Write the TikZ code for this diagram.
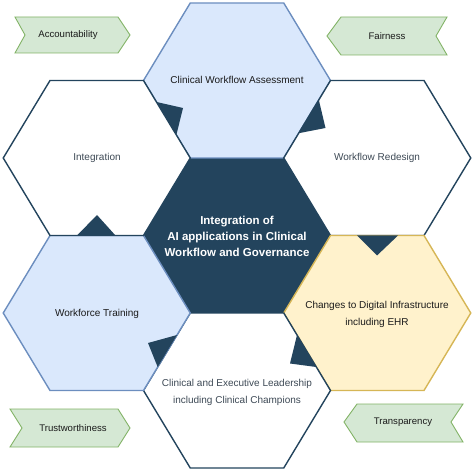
\documentclass[tikz,border=0pt]{standalone}
\usepackage{fontspec}
\setmainfont{Liberation Sans}
\usetikzlibrary{calc}
\definecolor{navy}{HTML}{23445D}
\definecolor{lblue}{HTML}{DAE8FC}
\definecolor{bblue}{HTML}{6C8EBF}
\definecolor{lyel}{HTML}{FFF2CC}
\definecolor{byel}{HTML}{D6B656}
\definecolor{lgreen}{HTML}{D5E8D4}
\definecolor{bgreen}{HTML}{82B366}
\definecolor{txtdark}{HTML}{1A1A1A}
\definecolor{txtgray}{HTML}{3E4A56}
\tikzset{
  hexwhite/.style={fill=white,draw=navy,line width=1.4pt,line join=miter},
  hexblue/.style={fill=lblue,draw=bblue,line width=1.4pt,line join=miter},
  hexyel/.style={fill=lyel,draw=byel,line width=1.4pt,line join=miter},
  hexdark/.style={fill=navy,draw=navy,line width=1.4pt},
  tagbox/.style={fill=lgreen,draw=bgreen,line width=0.9pt},
  notch/.style={fill=navy},
  lbl/.style={font=\fontsize{10}{17}\selectfont,align=center,text=txtdark,inner sep=0pt},
  lblgray/.style={lbl,text=txtgray},
  taglbl/.style={font=\fontsize{9.6}{12}\selectfont,text=txtdark,inner sep=0pt},
  mainlbl/.style={font=\bfseries\fontsize{11.5}{16}\selectfont,align=center,text=white,inner sep=0pt}
}
\newcommand\hexagonat[2]{\path[#1,shift={(#2)}] (-93.5,0) -- (-46.75,-77.5) -- (46.75,-77.5) -- (93.5,0) -- (46.75,77.5) -- (-46.75,77.5) -- cycle;}
\begin{document}
\begin{tikzpicture}[x=1pt,y=-1pt]
\useasboundingbox (0,0) rectangle (474,473);
% centres
\coordinate (T) at (237,80.5);
\coordinate (C) at (237,235.5);
\coordinate (B) at (237,390.5);
\coordinate (UL) at (96.75,158);
\coordinate (UR) at (377.25,158);
\coordinate (LL) at (96.75,313);
\coordinate (LR) at (377.25,313);
% hexagons
\hexagonat{hexdark}{C}
\hexagonat{hexblue}{T}
\hexagonat{hexwhite}{UR}
\hexagonat{hexyel}{LR}
\hexagonat{hexwhite}{B}
\hexagonat{hexblue}{LL}
\hexagonat{hexwhite}{UL}
% vertices used by the notches
\coordinate (Tl) at (143.5,80.5);
\coordinate (Tbl) at (190.25,158);
\coordinate (Tr) at (330.5,80.5);
\coordinate (Tbr) at (283.75,158);
\coordinate (LLr) at (190.25,313);
\coordinate (Bl) at (143.5,390.5);
\coordinate (LRl) at (283.75,313);
\coordinate (Br) at (330.5,390.5);
% notches
\fill[notch] ($(Tl)!0.277!(Tbl)$) -- (183,108) -- ($(Tl)!0.703!(Tbl)$) -- cycle;
\fill[notch] ($(Tr)!0.25!(Tbr)$) -- (325.5,128) -- ($(Tr)!0.68!(Tbr)$) -- cycle;
\fill[notch] (77,235.5) -- (97,215) -- (115.5,235.5) -- cycle;
\fill[notch] (357,235.5) -- (377,255.5) -- (398,235.5) -- cycle;
\fill[notch] ($(LLr)!0.284!(Bl)$) -- (148,343) -- ($(LLr)!0.697!(Bl)$) -- cycle;
\fill[notch] ($(LRl)!0.284!(Br)$) -- (290,363.5) -- ($(LRl)!0.697!(Br)$) -- cycle;
% hexagon labels
\node[mainlbl] (mainl) at (237,236) {Integration of\\AI applications in Clinical\\Workflow and Governance};
\node[lbl] (tl) at (237,80) {Clinical Workflow Assessment};
\node[lblgray] (ull) at (97,158) {Integration};
\node[lblgray] (url) at (377,158) {Workflow Redesign};
\node[lbl] (lll) at (97,314) {Workforce Training};
\node[lbl] (lrl) at (377,314.5) {Changes to Digital Infrastructure\\including EHR};
\node[lblgray] (bl) at (237,392) {Clinical and Executive Leadership\\including Clinical Champions};
% tags
\path[tagbox] (15,17) -- (118,17) -- (130,35) -- (118,53) -- (15,53) -- (25,35) -- cycle;
\node[taglbl] (acc) at (68,35) {Accountability};
\path[tagbox] (341,17) -- (447,17) -- (436,36) -- (447,55) -- (341,55) -- (327,36) -- cycle;
\node[taglbl] (fair) at (387,36) {Fairness};
\path[tagbox] (10,409) -- (118,409) -- (130,428) -- (118,447) -- (10,447) -- (22,428) -- cycle;
\node[taglbl] (trust) at (73,428) {Trustworthiness};
\path[tagbox] (357,404) -- (463,404) -- (451,422) -- (463,442) -- (357,442) -- (344,422) -- cycle;
\node[taglbl] (transp) at (403,422) {Transparency};
\end{tikzpicture}
\end{document}
